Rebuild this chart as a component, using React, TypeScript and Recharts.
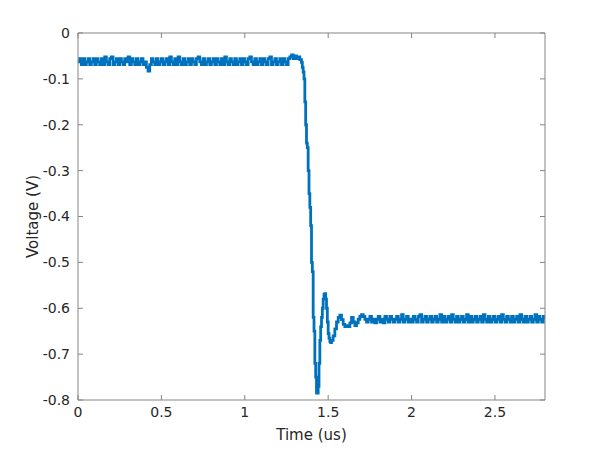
import { Line, LineChart, XAxis, YAxis } from "recharts";

const xTicks = [0, 0.5, 1, 1.5, 2, 2.5];
const yTicks = [-0.8, -0.7, -0.6, -0.5, -0.4, -0.3, -0.2, -0.1, 0];

// flat part before the edge, one sample every 0.01 us from t = 0
const baselineStart = 0;
const baselineVolts = [
  -0.063, -0.056, -0.069, -0.056, -0.069, -0.063, -0.056, -0.069, -0.063, -0.056,
  -0.069, -0.056, -0.063, -0.069, -0.056, -0.069, -0.052, -0.063, -0.069, -0.056,
  -0.052, -0.069, -0.063, -0.056, -0.069, -0.056, -0.063, -0.069, -0.056, -0.063,
  -0.052, -0.069, -0.056, -0.063, -0.069, -0.056, -0.069, -0.063, -0.056, -0.069,
  -0.063, -0.075, -0.083, -0.069, -0.056, -0.063, -0.069, -0.056, -0.069, -0.063,
  -0.056, -0.069, -0.063, -0.056, -0.069, -0.052, -0.063, -0.069, -0.056, -0.069,
  -0.052, -0.063, -0.069, -0.056, -0.069, -0.063, -0.056, -0.069, -0.056, -0.063,
  -0.069, -0.056, -0.052, -0.063, -0.069, -0.056, -0.069, -0.063, -0.056, -0.069,
  -0.063, -0.056, -0.069, -0.056, -0.063, -0.069, -0.056, -0.069, -0.052, -0.063,
  -0.069, -0.056, -0.063, -0.069, -0.056, -0.069, -0.063, -0.056, -0.069, -0.056,
  -0.063, -0.069, -0.056, -0.052, -0.063, -0.069, -0.056, -0.069, -0.063, -0.056,
  -0.069, -0.056, -0.063, -0.069, -0.056, -0.052, -0.069, -0.063, -0.056, -0.069,
  -0.063, -0.056, -0.069, -0.056, -0.063, -0.069, -0.056, -0.052, -0.048, -0.056,
  -0.05, -0.056, -0.052,
];

// the falling edge and ringing
const edgeTimes = [
  1.33, 1.34, 1.345, 1.35, 1.355, 1.36, 1.365, 1.37, 1.375, 1.38, 1.385, 1.39,
  1.395, 1.4, 1.405, 1.41, 1.415, 1.42, 1.425, 1.43, 1.435, 1.44, 1.445, 1.45,
  1.455, 1.46, 1.465, 1.47, 1.475, 1.48, 1.485, 1.49, 1.495, 1.5, 1.505, 1.51,
  1.515, 1.52, 1.53, 1.54, 1.55, 1.56, 1.57, 1.58, 1.59, 1.6, 1.61, 1.62, 1.63, 1.64,
];
const edgeVolts = [
  -0.058, -0.064, -0.075, -0.085, -0.1, -0.15, -0.2, -0.24, -0.25, -0.3, -0.35, -0.38,
  -0.42, -0.5, -0.52, -0.62, -0.65, -0.72, -0.75, -0.785, -0.785, -0.77, -0.72, -0.67,
  -0.64, -0.62, -0.6, -0.58, -0.57, -0.568, -0.58, -0.6, -0.63, -0.655, -0.665, -0.672,
  -0.675, -0.67, -0.66, -0.645, -0.63, -0.62, -0.615, -0.625, -0.635, -0.64, -0.638, -0.64, -0.632, -0.62,
];

// settled level after the edge, one sample every 0.01 us from t = 1.65
const settledStart = 1.65;
const settledVolts = [
  -0.63, -0.638, -0.632, -0.624, -0.618,
  -0.614, -0.618, -0.624, -0.63, -0.624, -0.618, -0.63, -0.624, -0.632, -0.624,
  -0.618, -0.63, -0.624, -0.632, -0.618, -0.624, -0.63, -0.618, -0.624, -0.63,
  -0.624, -0.618, -0.63, -0.624, -0.614, -0.63, -0.624, -0.618, -0.63, -0.624,
  -0.63, -0.618, -0.624, -0.63, -0.618, -0.614, -0.63, -0.624, -0.618, -0.63,
  -0.624, -0.618, -0.63, -0.624, -0.618, -0.63, -0.624, -0.614, -0.63, -0.618,
  -0.63, -0.624, -0.618, -0.63, -0.614, -0.624, -0.63, -0.618, -0.63, -0.624,
  -0.618, -0.63, -0.624, -0.614, -0.63, -0.618, -0.63, -0.624, -0.618, -0.63,
  -0.624, -0.618, -0.63, -0.614, -0.624, -0.63, -0.618, -0.63, -0.624, -0.618,
  -0.63, -0.624, -0.618, -0.63, -0.614, -0.624, -0.63, -0.618, -0.624, -0.63,
  -0.618, -0.63, -0.624, -0.618, -0.63, -0.614, -0.624, -0.63, -0.618, -0.63,
  -0.624, -0.618, -0.63, -0.624, -0.614, -0.63, -0.618, -0.624, -0.63, -0.618,
  -0.624,
];

const STEP = 0.01;

const data = [
  ...baselineVolts.map((v, i) => ({ t: +(baselineStart + i * STEP).toFixed(3), v })),
  ...edgeTimes.map((t, i) => ({ t, v: edgeVolts[i] })),
  ...settledVolts.map((v, i) => ({ t: +(settledStart + i * STEP).toFixed(3), v })),
];

const font = { fontFamily: "DejaVu Sans, sans-serif", fontSize: 14, fill: "#262626" };
const axisColor = "#858585";

export default function App() {
  return (
    <div style={{ position: "absolute", left: 0, top: 0, background: "#fff" }}>
      <LineChart width={600} height={450} data={data} margin={{ top: 32, right: 54, bottom: 0, left: 0 }}>
        <XAxis
          xAxisId="b"
          dataKey="t"
          type="number"
          domain={[0, 2.8]}
          ticks={xTicks}
          allowDataOverflow
          height={50}
          stroke={axisColor}
          tickSize={-5}
          tickMargin={12}
          tick={font}
          label={{ value: "Time (us)", position: "center", dy: 10, style: { ...font, fontSize: 15 } }}
        />
        <XAxis
          xAxisId="top"
          orientation="top"
          dataKey="t"
          type="number"
          domain={[0, 2.8]}
          ticks={xTicks}
          allowDataOverflow
          height={1}
          stroke={axisColor}
          tickSize={-5}
          tickFormatter={() => ""}
        />
        <YAxis
          yAxisId="l"
          type="number"
          domain={[-0.8, 0]}
          ticks={yTicks}
          allowDataOverflow
          width={78}
          stroke={axisColor}
          tickSize={-5}
          tickMargin={13}
          tick={font}
          tickFormatter={(v: number) => String(+v.toFixed(1))}
          label={{ value: "Voltage (V)", angle: -90, position: "center", dx: -6, style: { ...font, fontSize: 15 } }}
        />
        <YAxis
          yAxisId="r"
          orientation="right"
          type="number"
          domain={[-0.8, 0]}
          ticks={yTicks}
          allowDataOverflow
          width={1}
          stroke={axisColor}
          tickSize={-5}
          tickFormatter={() => ""}
        />
        <Line
          xAxisId="b"
          yAxisId="l"
          dataKey="v"
          type="stepAfter"
          dot={false}
          stroke="#0072BD"
          strokeWidth={2.8}
          isAnimationActive={false}
        />
      </LineChart>
    </div>
  );
}
